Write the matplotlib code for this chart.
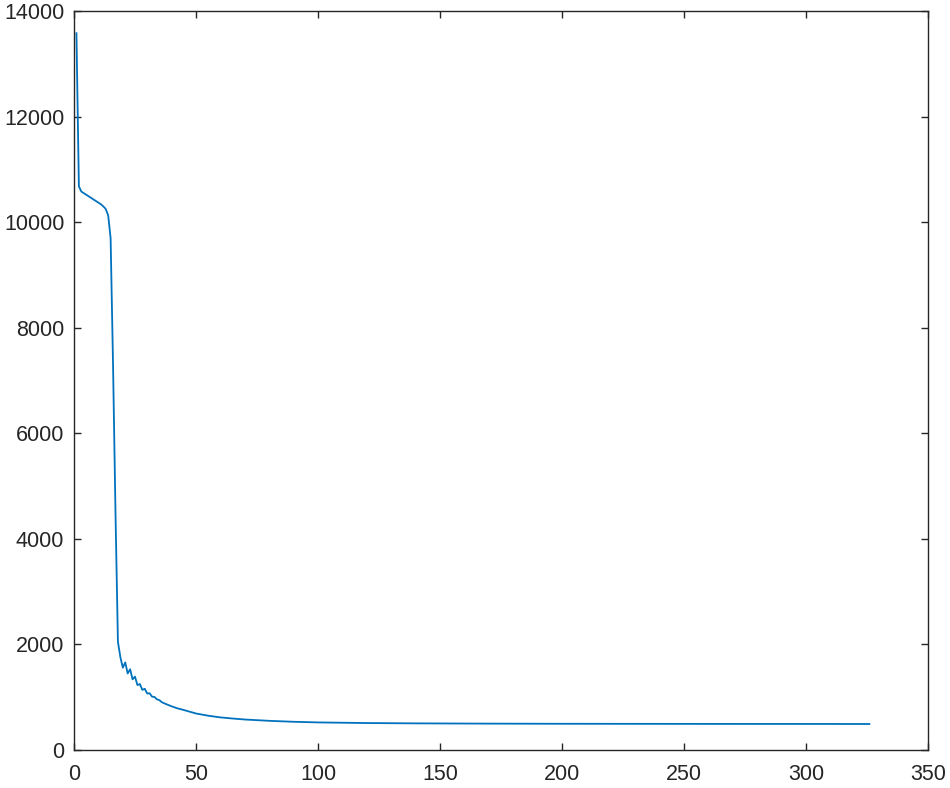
import matplotlib
matplotlib.use("Agg")
import matplotlib.pyplot as plt

plt.rcParams['font.family'] = ['Liberation Sans', 'DejaVu Sans']

# iteration / cost values
iters = list(range(1, 37)) + [38, 40, 42, 45, 50, 55, 60, 65, 70, 80,
                              90, 100, 120, 140, 170, 200, 250, 300, 326]
cost = [13580, 10680, 10580, 10550, 10520, 10490, 10460, 10430, 10400, 10370,
        10340, 10300, 10250, 10130, 9700, 7300, 4500, 2050, 1760, 1560,
        1660, 1450, 1530, 1340, 1390, 1230, 1250, 1140, 1160, 1070,
        1075, 1010, 1005, 960, 945, 905,
        865, 828, 795, 758, 692, 650, 618, 597, 578, 553,
        535, 523, 511, 505, 500, 497, 495, 494, 493]

fig = plt.figure(figsize=(9.5, 7.88), dpi=100)
ax = fig.add_axes([0.0779, 0.0482, 0.8989, 0.9378])
ax.plot(iters, cost, color='#0072BD', linewidth=1.3)

ax.set_xlim(0, 350)
ax.set_ylim(0, 14000)
ax.set_xticks(range(0, 351, 50))
ax.set_yticks(range(0, 14001, 2000))

ax.tick_params(direction='in', length=5, width=1, colors='#262626',
               labelsize=15.5, top=True, right=True)
ax.tick_params(axis='x', pad=10)
ax.tick_params(axis='y', pad=7)
for s in ax.spines.values():
    s.set_color('#262626')
    s.set_linewidth(1)

fig.savefig('out.png', dpi=100)
